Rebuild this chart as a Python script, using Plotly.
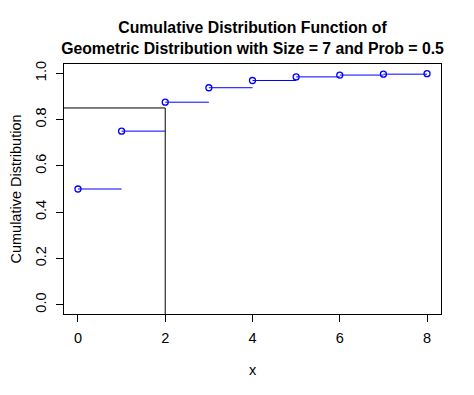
import plotly.graph_objects as go

x_vals = [0, 1, 2, 3, 4, 5, 6, 7, 8]
cdf_vals = [0.5, 0.75, 0.875, 0.9375, 0.96875, 0.984375, 0.9921875, 0.99609375, 0.99804688]
x_ticks = [0, 2, 4, 6, 8]
y_ticks = [0.0, 0.2, 0.4, 0.6, 0.8, 1.0]
ref_x = 2
ref_y = 0.85

# step segments from x to x+1 (except the last point)
seg_x, seg_y = [], []
for i in range(len(x_vals) - 1):
    seg_x += [x_vals[i], x_vals[i + 1], None]
    seg_y += [cdf_vals[i], cdf_vals[i], None]

fig = go.Figure()
fig.add_trace(go.Scatter(x=[-1, ref_x, ref_x], y=[ref_y, ref_y, -1], mode="lines",
                         line=dict(color="black", width=1), hoverinfo="skip"))
fig.add_trace(go.Scatter(x=seg_x, y=seg_y, mode="lines",
                         line=dict(color="blue", width=1)))
fig.add_trace(go.Scatter(x=x_vals, y=cdf_vals, mode="markers",
                         marker=dict(symbol="circle-open", size=6, color="blue",
                                     line=dict(width=1.3, color="blue"))))

font_family = "Liberation Sans, Arial, sans-serif"
fs = 14.5
W, H = 466, 387
L, R, T, B = 56, 33, 56, 81
fig.update_layout(
    width=W, height=H,
    margin=dict(l=L, r=R, t=T, b=B),
    paper_bgcolor="white", plot_bgcolor="white",
    showlegend=False,
    font=dict(family=font_family, size=fs, color="black"),
    title=dict(text="<b>Cumulative Distribution Function of<br>Geometric Distribution with Size = 7 and Prob = 0.5</b>",
               x=(L + (W - R)) / 2 / W, xanchor="center", y=1 - 25 / H, yanchor="middle",
               font=dict(size=15.8, family=font_family, color="black")),
    xaxis=dict(range=[-0.32, 8.32], tickvals=x_ticks, ticktext=[str(v) for v in x_ticks],
               showgrid=False, zeroline=False, showline=True, mirror=True,
               linecolor="black", linewidth=1, ticks="outside", ticklen=7,
               tickcolor="black", tickfont=dict(size=fs), automargin=False,
               ticklabelstandoff=4,
               title=dict(text="x", standoff=19, font=dict(size=fs))),
    yaxis=dict(range=[-0.04, 1.04], tickvals=y_ticks, ticktext=[f"{v:.1f}" for v in y_ticks],
               tickangle=-90, automargin=False, ticklabelstandoff=4,
               showgrid=False, zeroline=False, showline=True, mirror=True,
               linecolor="black", linewidth=1, ticks="outside", ticklen=7,
               tickcolor="black", tickfont=dict(size=fs),
               title=dict(text="Cumulative Distribution", standoff=14, font=dict(size=fs))),
)
fig.write_html("out.html")
